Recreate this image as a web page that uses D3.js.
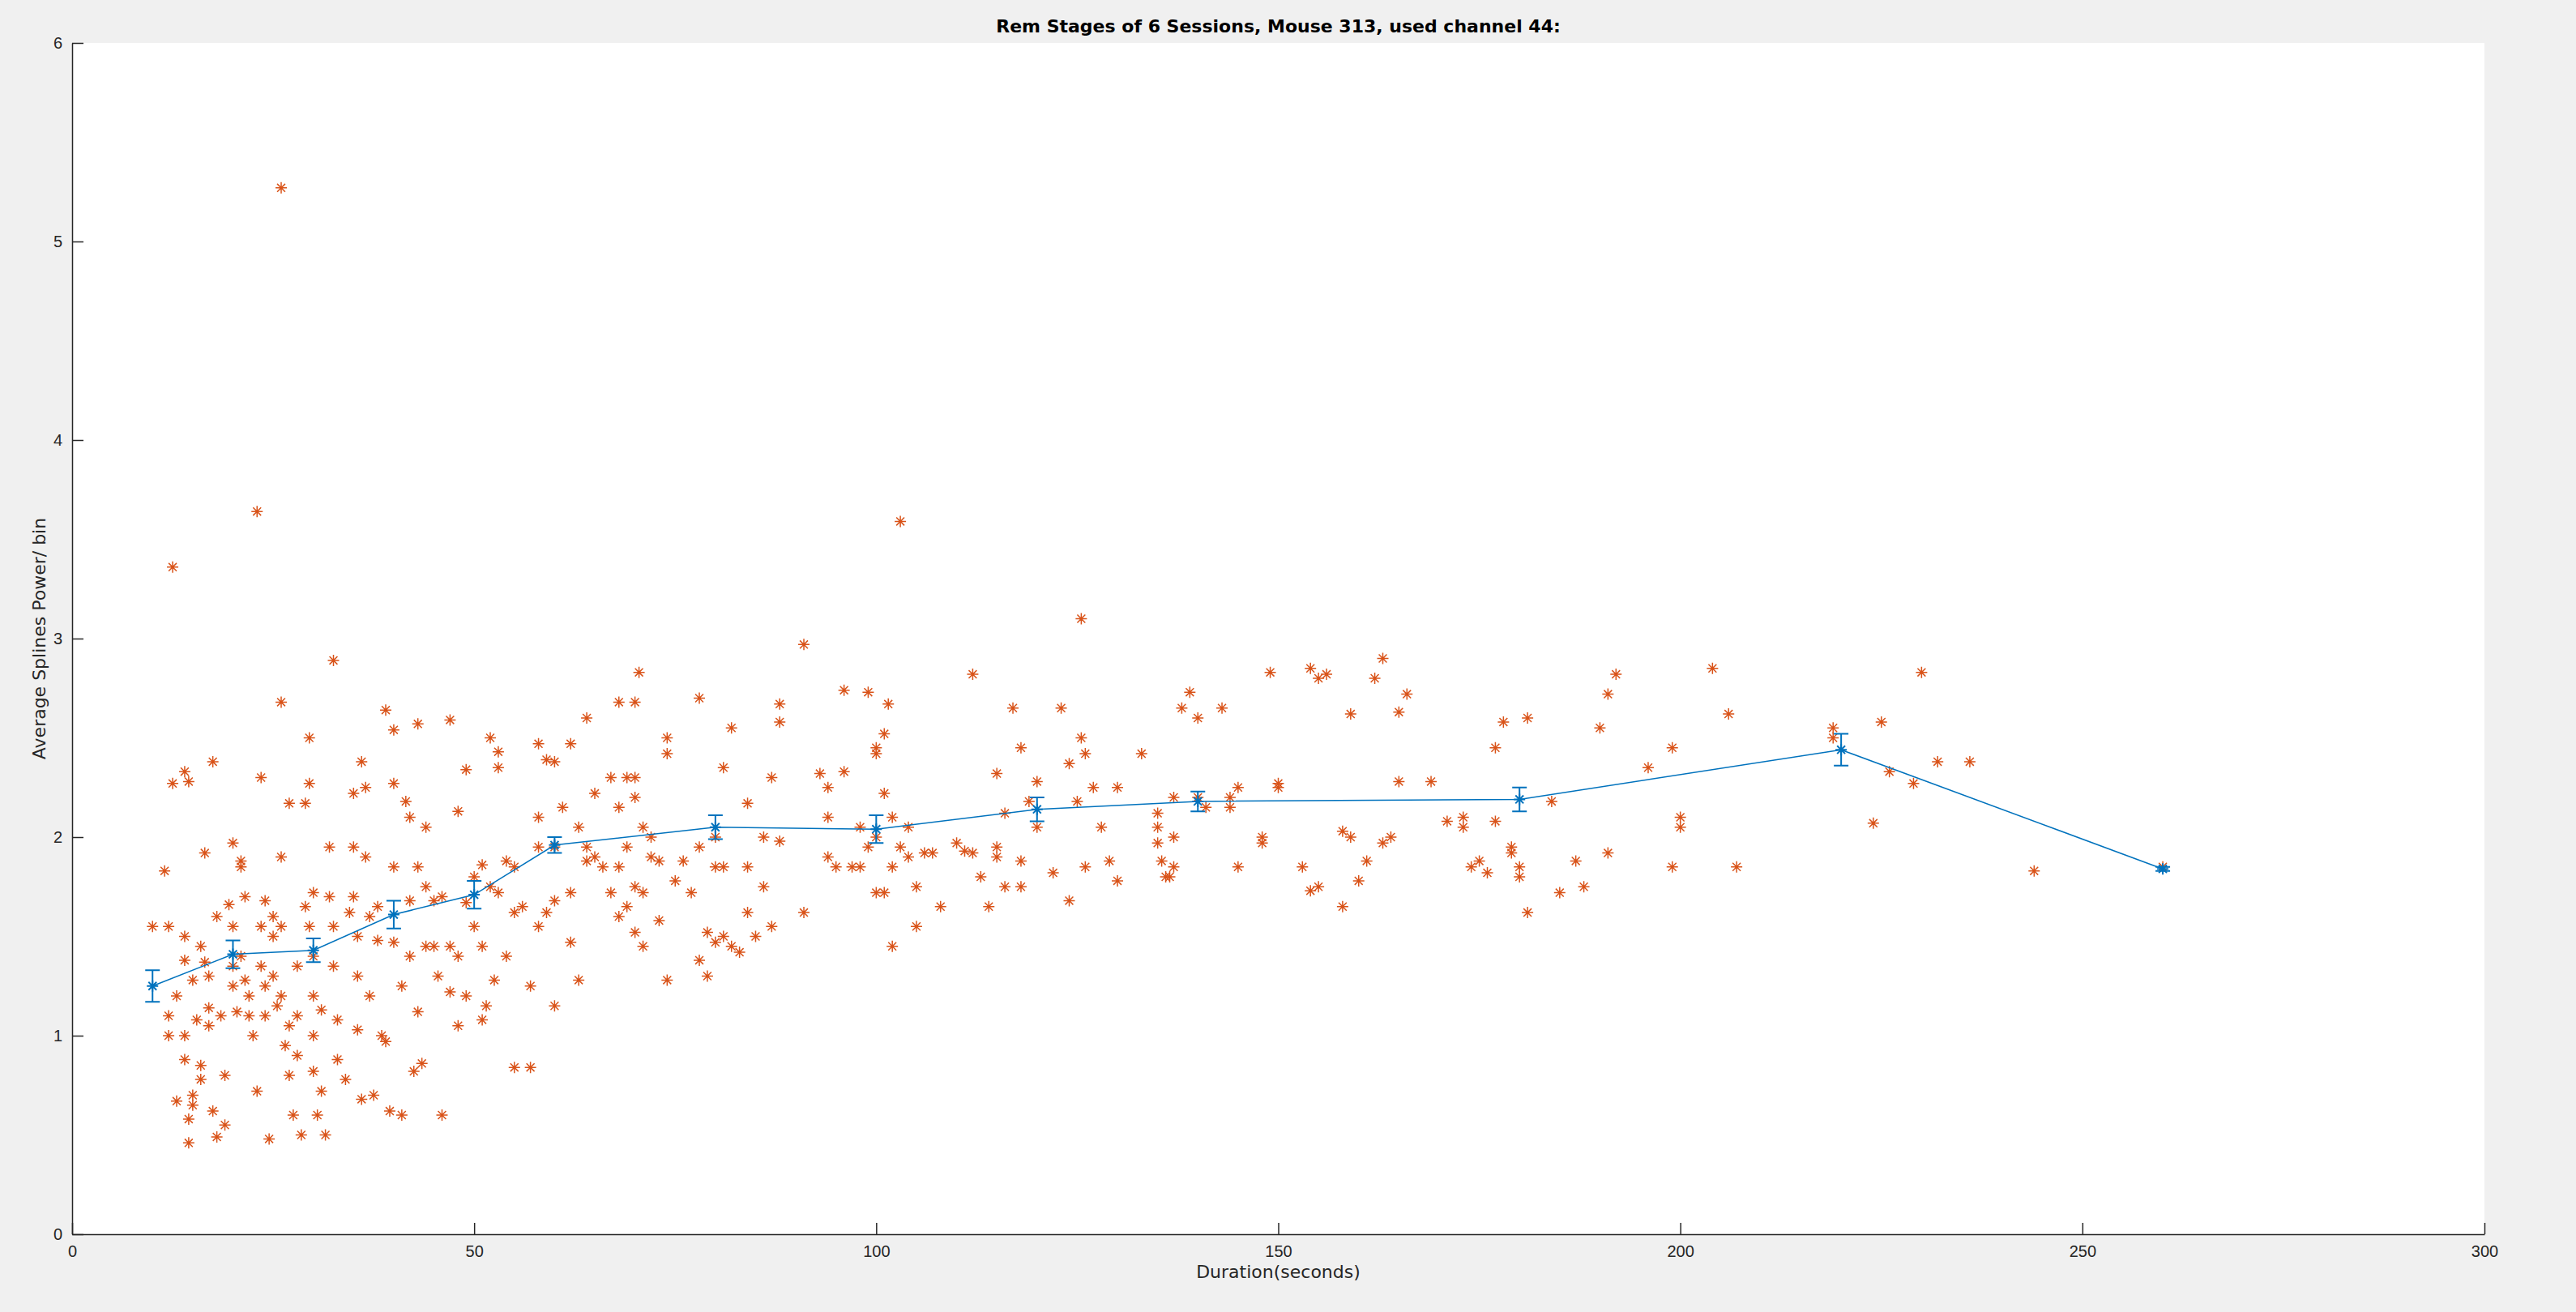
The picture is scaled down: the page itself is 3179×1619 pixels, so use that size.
<!DOCTYPE html>
<html>
<head>
<meta charset="utf-8">
<script src="https://cdn.jsdelivr.net/npm/d3@7"></script>
<style>
  body { margin: 0; background: #f0f0f0; }
  svg { display: block; font-family: "DejaVu Sans", sans-serif; }
</style>
</head>
<body>
<svg id="chart" width="3179" height="1619"></svg>
<script>
// mean curve with error bars
const meanX = [10, 20, 30, 40, 50, 60, 80, 100, 120, 140, 180, 220, 260];
const meanY = [1.25, 1.41, 1.43, 1.61, 1.71, 1.96, 2.05, 2.04, 2.14, 2.18, 2.19, 2.44, 1.84];
const meanErr = [0.08, 0.07, 0.06, 0.07, 0.07, 0.04, 0.06, 0.07, 0.06, 0.05, 0.06, 0.08, 0.01];

// individual REM stages: [duration, power]
const stages = [
  [26,5.27],[23,3.64],[12.5,3.36],[103,3.59],[32.5,2.89],[91,2.97],[125.5,3.1],
  [10,1.55],[11.5,1.83],[12,1.55],[12.5,2.27],[13,1.2],[12,1.1],[12,1.0],[13,0.67],[14,1.5],[14,1.38],[14,1.0],
  [14,0.88],[14.5,0.58],[14.5,0.46],[15,0.65],[15,0.7],[14,2.33],[14.5,2.28],[15,1.28],[15.5,1.08],[16,0.78],
  [16,0.85],[16.5,1.92],[16,1.45],[16.5,1.37],[17,1.3],[17,1.14],[17,1.05],[17.5,2.38],[17.5,0.62],[18,0.49],
  [18,1.6],[18.5,1.1],[19,0.8],[19,0.55],[19.5,1.66],[20,1.97],[20,1.55],[20,1.35],[20,1.25],[20.5,1.12],
  [21,1.85],[21,1.88],[21.5,1.7],[21,1.4],[21.5,1.28],[22,1.2],[22,1.1],[22.5,1.0],[23,0.72],[23.5,2.3],
  [23.5,1.55],[23.5,1.35],[24,1.68],[24,1.25],[24,1.1],[24.5,0.48],[25,1.6],[25,1.5],[25,1.3],[25.5,1.15],
  [26,2.68],[26,1.9],[26,1.55],[26,1.2],[26.5,0.95],[27,2.17],[27,1.05],[27,0.8],[27.5,0.6],[28,1.35],[28,1.1],
  [28,0.9],[28.5,0.5],[29,2.17],[29,1.65],[29.5,2.27],[29.5,2.5],[29.5,1.55],[30,1.72],[30,1.4],[30,1.2],[30,1.0],
  [30,0.82],[30.5,0.6],[31,1.13],[31,0.72],[31.5,0.5],[32,1.95],[32,1.7],[32.5,1.55],[32.5,1.35],[33,1.08],
  [33,0.88],[34,0.78],[34.5,1.62],[35,2.22],[35,1.95],[35,1.7],[35.5,1.5],[35.5,1.3],[35.5,1.03],[36,0.68],
  [36,2.38],[36.5,2.25],[36.5,1.9],[37,1.6],[37,1.2],[37.5,0.7],[38,1.65],[38,1.48],[38.5,1.0],[39,2.64],
  [39,0.97],[39.5,0.62],[40,2.54],[40,2.27],[40,1.85],[40,1.47],[41,1.25],[41,0.6],[41.5,2.18],[42,2.1],
  [42,1.68],[42,1.4],[42.5,0.82],[43,2.57],[43,1.85],[43,1.12],[43.5,0.86],[44,2.05],[44,1.75],[44,1.45],
  [45,1.68],[45,1.45],[45.5,1.3],[46,1.7],[46,0.6],[47,2.59],[47,1.45],[47,1.22],[48,2.13],[48,1.05],[48,1.4],
  [49,2.34],[49,1.67],[49,1.2],[50,1.8],[50,1.55],[51,1.86],[51,1.45],[51,1.08],[51.5,1.15],[52,2.5],[52,1.75],
  [52.5,1.28],[53,2.43],[53,2.35],[53,1.72],[54,1.88],[54,1.4],[55,1.85],[55,0.84],[55,1.62],[56,1.65],[57,1.25],
  [57,0.84],[58,2.47],[58,2.1],[58,1.95],[58,1.55],[59,2.39],[59,1.62],[60,2.38],[60,1.95],[60,1.68],[60,1.15],
  [61,2.15],[62,2.47],[62,1.47],[62,1.72],[63,2.05],[63,1.28],[64,2.6],[64,1.95],[64,1.88],[65,2.22],[65,1.9],
  [66,1.85],[67,2.3],[67,1.72],[68,2.68],[68,2.15],[68,1.85],[68,1.6],[69,2.3],[69,1.95],[69,1.65],[70,2.68],
  [70,2.3],[70,2.2],[70,1.75],[70,1.52],[70.5,2.83],[71,2.05],[71,1.72],[71,1.45],[72,1.9],[72,2.0],[73,1.88],
  [73,1.58],[74,2.5],[74,2.42],[74,1.28],[75,1.78],[76,1.88],[77,1.72],[78,2.7],[78,1.95],[78,1.38],[79,1.52],
  [79,1.3],[80,2.0],[80,1.85],[80,1.47],[81,2.35],[81,1.5],[81,1.85],[82,2.55],[82,1.45],[83,1.42],[84,2.17],
  [84,1.85],[84,1.62],[85,1.5],[86,2.0],[86,1.75],[87,2.3],[87,1.55],[88,2.67],[88,2.58],[88,1.98],[91,1.62],
  [93,2.32],[94,2.25],[94,2.1],[94,1.9],[95,1.85],[96,2.33],[96,2.74],[97,1.85],[98,1.85],[98,2.05],[99,2.73],
  [99,1.95],[100,2.42],[100,2.45],[100,2.0],[100,1.72],[101,2.52],[101,2.22],[101,1.72],[101.5,2.67],[102,2.1],
  [102,1.85],[102,1.45],[103,1.95],[104,2.05],[104,1.9],[105,1.75],[105,1.55],[106,1.92],[107,1.92],[108,1.65],
  [110,1.97],[111,1.93],[112,2.82],[112,1.92],[113,1.8],[114,1.65],[115,1.95],[115,1.9],[115,2.32],[116,2.12],
  [116,1.75],[117,2.65],[118,2.45],[118,1.75],[118,1.88],[119,2.18],[120,2.28],[120,2.05],[122,1.82],[123,2.65],
  [124,2.37],[124,1.68],[125,2.18],[125.5,2.5],[126,2.42],[126,1.85],[127,2.25],[128,2.05],[129,1.88],[130,2.25],
  [130,1.78],[133,2.42],[135,2.12],[135,2.05],[135,1.97],[135.5,1.88],[136,1.8],[136.5,1.8],[137,2.2],[137,2.0],
  [137,1.85],[138,2.65],[139,2.73],[140,2.6],[140,2.2],[141,2.15],[143,2.65],[144,2.2],[144,2.15],[145,2.25],
  [145,1.85],[148,2.0],[148,1.97],[149,2.83],[150,2.25],[150,2.27],[153,1.85],[154,2.85],[154,1.73],[155,2.8],
  [155,1.75],[156,2.82],[158,1.65],[158,2.03],[159,2.62],[159,2.0],[160,1.78],[161,1.88],[162,2.8],[163,2.9],
  [163,1.97],[164,2.0],[165,2.63],[165,2.28],[166,2.72],[169,2.28],[171,2.08],[173,2.1],[173,2.05],[174,1.85],
  [175,1.88],[176,1.82],[177,2.45],[177,2.08],[178,2.58],[179,1.95],[179,1.92],[180,1.85],[180,1.8],[181,2.6],
  [181,1.62],[184,2.18],[185,1.72],[187,1.88],[188,1.75],[190,2.55],[191,2.72],[191,1.92],[192,2.82],[196,2.35],
  [199,2.45],[199,1.85],[200,2.1],[200,2.05],[204,2.85],[206,2.62],[207,1.85],[219,2.5],[219,2.55],[224,2.07],
  [225,2.58],[226,2.33],[229,2.27],[230,2.83],[232,2.38],[236,2.38],[244,1.83],[260,1.85]
];

const xTicks = [0, 50, 100, 150, 200, 250, 300];
const yTicks = [0, 1, 2, 3, 4, 5, 6];

const margin = { top: 53, right: 113, bottom: 96, left: 89 };
const W = 3179, H = 1619;
const svg = d3.select('#chart');

const x = d3.scaleLinear().domain([0, 300]).range([margin.left, W - margin.right]);
const y = d3.scaleLinear().domain([0, 6]).range([H - margin.bottom, margin.top]);

svg.append('rect')
  .attr('x', x(0)).attr('y', y(6))
  .attr('width', x(300) - x(0)).attr('height', y(0) - y(6))
  .attr('fill', '#fff');

// axes, MATLAB style: ticks pointing inward
const xAxis = svg.append('g')
  .attr('transform', `translate(0,${y(0)})`)
  .call(d3.axisBottom(x).tickValues(xTicks).tickFormat(d3.format('d'))
    .tickSizeInner(-14).tickSizeOuter(0).tickPadding(14));
const yAxis = svg.append('g')
  .attr('transform', `translate(${x(0)},0)`)
  .call(d3.axisLeft(y).tickValues(yTicks).tickFormat(d3.format('d'))
    .tickSizeInner(-14).tickSizeOuter(0).tickPadding(12));
[xAxis, yAxis].forEach((g) => {
  g.selectAll('path, line').attr('stroke', '#262626').attr('stroke-width', 1.5);
  g.selectAll('text').attr('fill', '#262626').style('font-size', '20px');
});

// asterisk marker
const star = (r) => {
  const d = r * 0.7071;
  return `M${-r},0H${r}M0,${-r}V${r}M${-d},${-d}L${d},${d}M${-d},${d}L${d},${-d}`;
};

svg.append('g')
  .selectAll('path')
  .data(stages)
  .enter()
  .append('path')
  .attr('transform', (d) => `translate(${x(d[0])},${y(d[1])})`)
  .attr('d', star(7))
  .attr('fill', 'none')
  .attr('stroke', '#D95319')
  .attr('stroke-width', 1.5);

// mean curve
const means = meanX.map((v, i) => ({ x: v, y: meanY[i], e: meanErr[i] }));
const blue = '#0072BD';
svg.append('path')
  .datum(means)
  .attr('d', d3.line().x((d) => x(d.x)).y((d) => y(d.y)))
  .attr('fill', 'none')
  .attr('stroke', blue)
  .attr('stroke-width', 1.5);

const err = svg.append('g').selectAll('g').data(means).enter().append('g')
  .attr('stroke', blue).attr('stroke-width', 2).attr('fill', 'none');
err.append('path')
  .attr('d', (d) => `M${x(d.x)},${y(d.y - d.e)}V${y(d.y + d.e)}`
    + `M${x(d.x) - 9},${y(d.y - d.e)}h18M${x(d.x) - 9},${y(d.y + d.e)}h18`);
err.append('path')
  .attr('transform', (d) => `translate(${x(d.x)},${y(d.y)})`)
  .attr('d', star(7));

// texts
svg.append('text')
  .attr('x', (x(0) + x(300)) / 2).attr('y', 40)
  .attr('text-anchor', 'middle')
  .style('font-size', '22px').style('font-weight', 'bold')
  .text('Rem Stages of 6 Sessions, Mouse 313, used channel 44:');

svg.append('text')
  .attr('x', (x(0) + x(300)) / 2).attr('y', H - 42)
  .attr('text-anchor', 'middle')
  .attr('fill', '#262626')
  .style('font-size', '22px')
  .text('Duration(seconds)');

svg.append('text')
  .attr('transform', `translate(56,${(y(0) + y(6)) / 2}) rotate(-90)`)
  .attr('text-anchor', 'middle')
  .attr('fill', '#262626')
  .style('font-size', '22px')
  .text('Average Splines Power/ bin');
</script>
</body>
</html>
